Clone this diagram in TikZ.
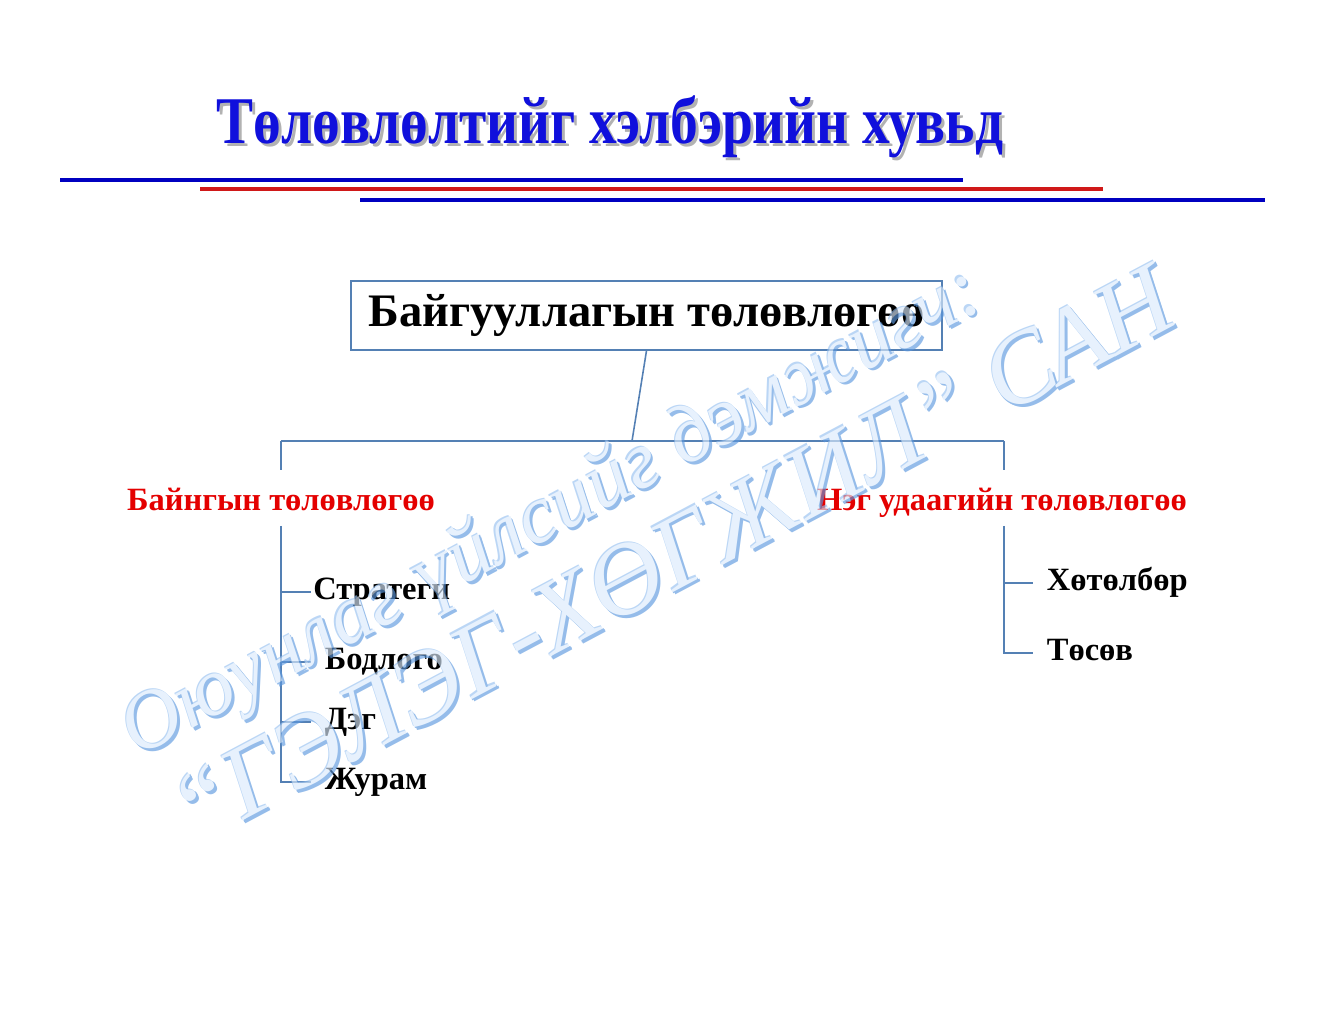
\documentclass[tikz,border=0pt]{standalone}
\usepackage{fontspec}
\setmainfont{Liberation Serif}
\usepackage{tikz}
\usetikzlibrary{positioning,calc}
\definecolor{ttlblue}{RGB}{16,16,220}
\definecolor{rulblue}{RGB}{0,0,192}
\definecolor{rulred}{RGB}{208,24,24}
\definecolor{lnblue}{RGB}{84,128,180}
\definecolor{lblred}{RGB}{228,0,0}
\definecolor{wmfill}{RGB}{218,234,252}
\definecolor{wmedge}{RGB}{92,152,222}
\definecolor{wmrim}{RGB}{150,192,240}

\begin{document}
\begin{tikzpicture}[x=0.02cm,y=-0.02cm,
  leaf/.style={anchor=west,font=\bfseries\fontsize{18.5}{20}\selectfont,inner xsep=0.27cm,inner ysep=0pt,text height=13pt,text depth=4pt},
  kind/.style={font=\bfseries\fontsize{18.5}{20}\selectfont,text=lblred,inner xsep=0pt,inner ysep=5.6pt,text height=17pt,text depth=3pt},
  wm/.style={font=\itshape\fontsize{#1}{#1}\selectfont,rotate=28,inner sep=0pt},
  tree/.style={lnblue,line width=0.9pt}]
  \useasboundingbox (0,0) rectangle (1325,1024);

  % title and rules
  \node[font=\bfseries\fontsize{38}{40}\selectfont,text=gray!60,xscale=0.83] at (613,130) {Төлөвлөлтийг хэлбэрийн хувьд};
  \node[font=\bfseries\fontsize{38}{40}\selectfont,text=ttlblue,xscale=0.83] (title) at (610,127) {Төлөвлөлтийг хэлбэрийн хувьд};
  \draw[rulblue,line width=2.3pt] (60,180) -- (963,180);
  \draw[rulred,line width=2.3pt] (200,189) -- (1103,189);
  \draw[rulblue,line width=2.3pt] (360,200) -- (1265,200);

  % tree
  \node[draw=lnblue,line width=0.8pt,minimum width=591*0.02cm,minimum height=69*0.02cm,font=\bfseries\fontsize{26.5}{28}\selectfont] (org) at (646.5,315.5) {Байгууллагын төлөвлөгөө};
  \coordinate (hub) at (632,441);
  \coordinate (lt) at (281,441);
  \coordinate (rt) at (1004,441);
  \node[kind] (perm) at (281,498) {Байнгын төлөвлөгөө};
  \node[kind] (once) at (1002,498) {Нэг удаагийн төлөвлөгөө};

  \node[leaf,inner xsep=0.04cm] (strat) at (311,592) {Стратеги};
  \node[leaf] (pol) at (311,662) {Бодлого};
  \node[leaf] (rule) at (311,722) {Дэг};
  \node[leaf] (proc) at (311,782) {Журам};
  \node[leaf] (prog) at (1033,583) {Хөтөлбөр};
  \node[leaf] (proj) at (1033,653) {Төсөв};

  \draw[tree] (org.south) -- (hub);
  \draw[tree] (lt) -- (rt);
  \draw[tree] (lt) -- (lt |- perm.north);
  \draw[tree] (rt) -- (rt |- once.north);
  \draw[tree] (lt |- perm.south) -- (lt |- proc.west) -- (proc.west);
  \draw[tree] (rt |- once.south) -- (rt |- proj.west) -- (proj.west);
  \foreach \n in {strat,pol,rule}
    \draw[tree] (lt |- \n.west) -- (\n.west);
  \draw[tree] (rt |- prog.west) -- (prog.west);

  % watermark
  \begin{scope}[transparency group,opacity=0.65]
  \foreach \c/\dx/\dy in {wmrim/-1.2/-1.2,wmedge/2.8/2.8,wmedge/1.6/1.6,wmfill/0/0}{
    \node[wm=47,text=\c] (wma) at ($(553,514)+(\dx,\dy)$) {Оюунлаг үйлсийг дэмжигч:};
    \node[wm=58,text=\c] (wmb) at ($(672,555)+(\dx,\dy)$) {“ГЭЛЭГ-ХӨГЖИЛ” САН};
  }
  \end{scope}
\end{tikzpicture}
\end{document}
